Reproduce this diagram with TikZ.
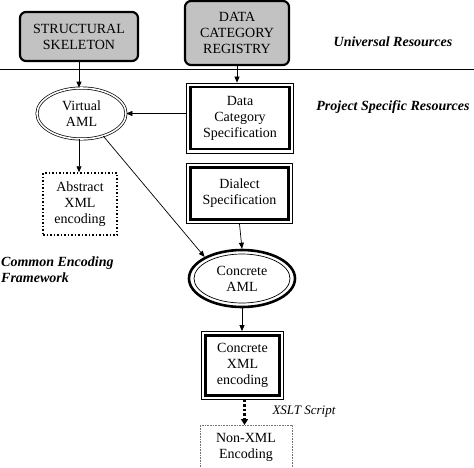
\documentclass[tikz,border=0pt]{standalone}
\usepackage{fontspec}
\setmainfont{Liberation Serif}
\usetikzlibrary{arrows.meta,shapes.geometric,calc}
\tikzset{
  base/.style={align=center,font=\fontsize{14}{16}\selectfont,inner sep=0pt},
  graybox/.style={base,draw,rounded corners=6pt,line width=2.2pt,fill=black!24},
  dblbox/.style={base,draw,line width=0.8pt},
  dotbox/.style={base,draw,dotted,line width=1.5pt},
  arr/.style={-{Triangle[length=6pt,width=5pt]},line width=0.7pt},
  label/.style={font=\fontsize{14}{16}\selectfont\bfseries\itshape,inner sep=0pt},
}
\newcommand{\innerframe}[1]{\draw[line width=2.6pt] ([shift={(4.5pt,-4.5pt)}]#1.north west) rectangle ([shift={(-4.5pt,4.5pt)}]#1.south east);}
\begin{document}
\begin{tikzpicture}[x=1pt,y=-1pt]
\clip (0,0) rectangle (474,467);
\fill[white] (0,0) rectangle (474,467);
% universal
\node[graybox,minimum width=118pt,minimum height=49pt] (ss) at (79,36.5) {STRUCTURAL\\SKELETON};
\node[graybox,minimum width=104pt,minimum height=64pt] (dcr) at (237,33) {DATA\\CATEGORY\\REGISTRY};
\node[label] (ur) at (393,42) {Universal Resources};
\coordinate (l1) at (0,70.5);
\coordinate (r1) at (474,70.5);
\draw[line width=0.8pt,double,double distance=2pt] (l1) -- (r1);
\node[label] (psr) at (393,107) {Project Specific Resources};
% project
\node[ellipse,base,draw,double,double distance=1.6pt,line width=0.7pt,minimum width=89pt,minimum height=51pt] (vaml) at (81.5,113.5) {Virtual\\AML};
\node[dblbox,minimum width=107pt,minimum height=70pt] (dcs) at (240,118) {Data\\Category\\Specification};
\innerframe{dcs}
\node[dotbox,minimum width=74pt,minimum height=62pt] (axml) at (80,204) {Abstract\\XML\\encoding};
\node[dblbox,minimum width=106pt,minimum height=60pt] (dial) at (239.5,193.5) {Dialect\\Specification};
\innerframe{dial}
\node[ellipse,base,draw,line width=2.6pt,minimum width=106pt,minimum height=57pt] (caml) at (242,278.5) {Concrete\\AML};
\draw[line width=0.7pt] (caml.center) ellipse (48pt and 24.5pt);
\node[label,anchor=west,align=left] (cef) at (1,269.5) {Common Encoding\\Framework};
\node[dblbox,minimum width=82pt,minimum height=68pt] (cxml) at (242.5,365.5) {Concrete\\XML\\encoding};
\innerframe{cxml}
\node[font=\fontsize{13}{15}\selectfont\itshape,inner sep=0pt] (xslt) at (304,412) {XSLT Script};
\node[base,draw=black!55,densely dotted,line width=0.6pt,minimum width=92pt,minimum height=60pt,anchor=north] (nx) at (246,425) {};
\node[base] (nxt) at (246,447) {Non-XML\\Encoding};
% connectors
\draw[arr] (ss.south) -- (ss.south |- vaml.north);
\draw[arr] (dcr.south) -- ([xshift=-3pt]dcs.north);
\draw[arr] (dcs.west |- vaml.east) -- (vaml.east);
\draw[arr] (vaml.south) ++(-2.5,0) coordinate (vs) -- (vs |- axml.north);
\draw[arr] (vaml.-46) -- (caml.150);
\draw[arr] (dial.south) -- (caml.north);
\draw[arr] (caml.south) -- (caml.south |- cxml.north);
\draw[line width=2.4pt,dotted,-{Triangle[length=6pt,width=7pt]}] ([xshift=2pt]cxml.south) -- ([xshift=2pt]cxml.south |- nx.north);
\end{tikzpicture}
\end{document}
